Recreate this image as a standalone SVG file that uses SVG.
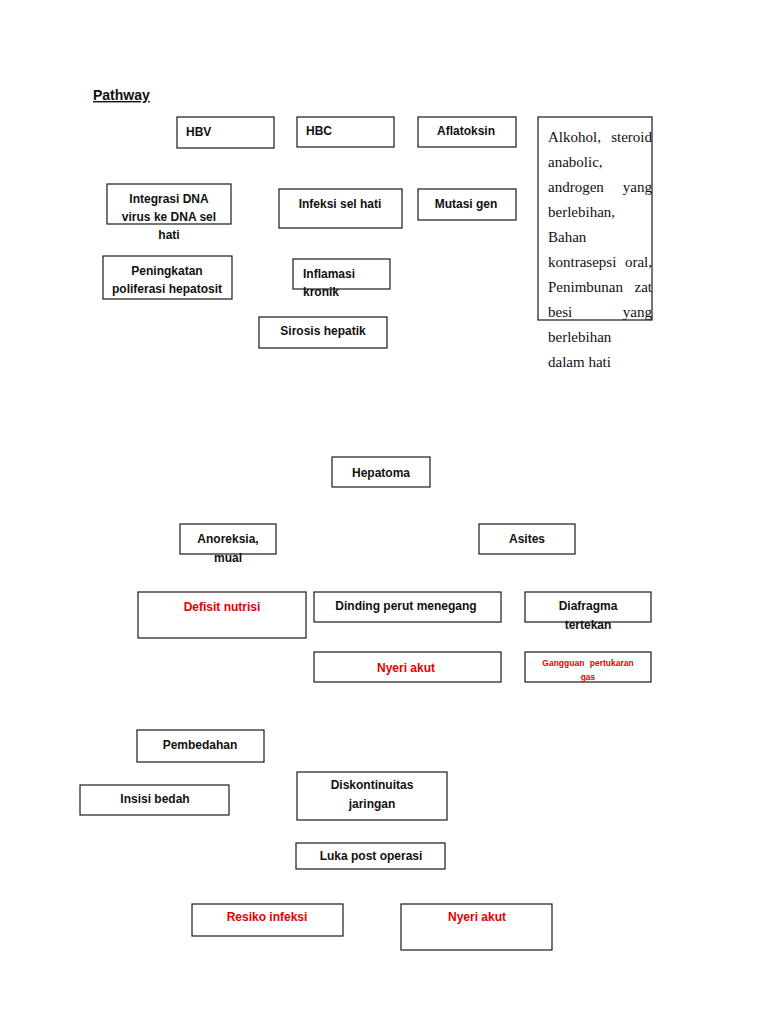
<svg xmlns="http://www.w3.org/2000/svg" width="768" height="1024" viewBox="0 0 768 1024">
<style>
.b{fill:#fff;stroke:#1a1a1a;stroke-width:1.2}
.t{font-family:"Liberation Sans",Arial,sans-serif;font-weight:bold;font-size:12px;fill:#111;text-anchor:middle}
.l{text-anchor:start}
.r{fill:#e60000}
.s{font-family:"Liberation Serif","Times New Roman",serif;font-size:15px;fill:#111}
.e{text-anchor:end}
</style>
<rect width="768" height="1024" fill="#fff"/>
<text x="93" y="100" class="t l" style="font-size:14px" text-decoration="underline">Pathway</text>
<g id="connectors"/>
<g id="hbv"><rect class="b" x="177" y="117" width="97" height="31"/><text class="t l" x="186" y="136">HBV</text></g>
<g id="hbc"><rect class="b" x="297" y="117" width="97" height="30"/><text class="t l" x="306" y="135">HBC</text></g>
<g id="aflatoksin"><rect class="b" x="418" y="117" width="98" height="30"/><text class="t" x="466" y="135">Aflatoksin</text></g>
<g id="alkohol"><rect class="b" x="538" y="117" width="114" height="203"/>
<text class="s" x="548" y="142">Alkohol,</text><text class="s e" x="652" y="142">steroid</text>
<text class="s" x="548" y="167">anabolic,</text>
<text class="s" x="548" y="192">androgen</text><text class="s e" x="652" y="192">yang</text>
<text class="s" x="548" y="217">berlebihan,</text>
<text class="s" x="548" y="242">Bahan</text>
<text class="s" x="548" y="267">kontrasepsi</text><text class="s e" x="652" y="267">oral,</text>
<text class="s" x="548" y="292">Penimbunan</text><text class="s e" x="652" y="292">zat</text>
<text class="s" x="548" y="317">besi</text><text class="s e" x="652" y="317">yang</text>
<text class="s" x="548" y="342">berlebihan</text>
<text class="s" x="548" y="367">dalam hati</text>
</g>
<g id="integrasi"><rect class="b" x="107" y="184" width="124" height="40"/><text class="t" x="169" y="203">Integrasi DNA</text><text class="t" x="169" y="221">virus ke DNA sel</text><text class="t" x="169" y="239">hati</text></g>
<g id="infeksi"><rect class="b" x="279" y="189" width="123" height="39"/><text class="t" x="340" y="208">Infeksi sel hati</text></g>
<g id="mutasi"><rect class="b" x="418" y="189" width="98" height="31"/><text class="t" x="466" y="208">Mutasi gen</text></g>
<g id="peningkatan"><rect class="b" x="103" y="256" width="129" height="43"/><text class="t" x="167" y="275">Peningkatan</text><text class="t" x="167" y="293">poliferasi hepatosit</text></g>
<g id="inflamasi"><rect class="b" x="293" y="259" width="97" height="30"/><text class="t l" x="303" y="278">Inflamasi</text><text class="t l" x="303" y="296">kronik</text></g>
<g id="sirosis"><rect class="b" x="259" y="317" width="128" height="31"/><text class="t" x="323" y="335">Sirosis hepatik</text></g>
<g id="hepatoma"><rect class="b" x="332" y="457" width="98" height="30"/><text class="t" x="381" y="477">Hepatoma</text></g>
<g id="anoreksia"><rect class="b" x="180" y="524" width="96" height="30"/><text class="t" x="228" y="543">Anoreksia,</text><text class="t" x="228" y="562">mual</text></g>
<g id="asites"><rect class="b" x="479" y="524" width="96" height="30"/><text class="t" x="527" y="543">Asites</text></g>
<g id="defisit"><rect class="b" x="138" y="592" width="168" height="46"/><text class="t r" x="222" y="611">Defisit nutrisi</text></g>
<g id="dinding"><rect class="b" x="314" y="592" width="187" height="30"/><text class="t" x="406" y="610">Dinding perut menegang</text></g>
<g id="diafragma"><rect class="b" x="525" y="592" width="126" height="30"/><text class="t" x="588" y="610">Diafragma</text><text class="t" x="588" y="629">tertekan</text></g>
<g id="nyeri1"><rect class="b" x="314" y="652" width="187" height="30"/><text class="t r" x="406" y="672">Nyeri akut</text></g>
<g id="gangguan"><rect class="b" x="525" y="652" width="126" height="30"/><text class="t r" x="588" y="666" style="font-size:8.5px;word-spacing:3px">Gangguan pertukaran</text><text class="t r" x="588" y="680" style="font-size:8.5px">gas</text></g>
<g id="pembedahan"><rect class="b" x="137" y="730" width="127" height="32"/><text class="t" x="200" y="749">Pembedahan</text></g>
<g id="insisi"><rect class="b" x="80" y="785" width="149" height="30"/><text class="t" x="155" y="803">Insisi bedah</text></g>
<g id="diskontinuitas"><rect class="b" x="297" y="772" width="150" height="48"/><text class="t" x="372" y="789">Diskontinuitas</text><text class="t" x="372" y="808">jaringan</text></g>
<g id="luka"><rect class="b" x="296" y="843" width="149" height="26"/><text class="t" x="371" y="860">Luka post operasi</text></g>
<g id="resiko"><rect class="b" x="192" y="904" width="151" height="32"/><text class="t r" x="267" y="921">Resiko infeksi</text></g>
<g id="nyeri2"><rect class="b" x="401" y="904" width="151" height="46"/><text class="t r" x="477" y="921">Nyeri akut</text></g>
</svg>
